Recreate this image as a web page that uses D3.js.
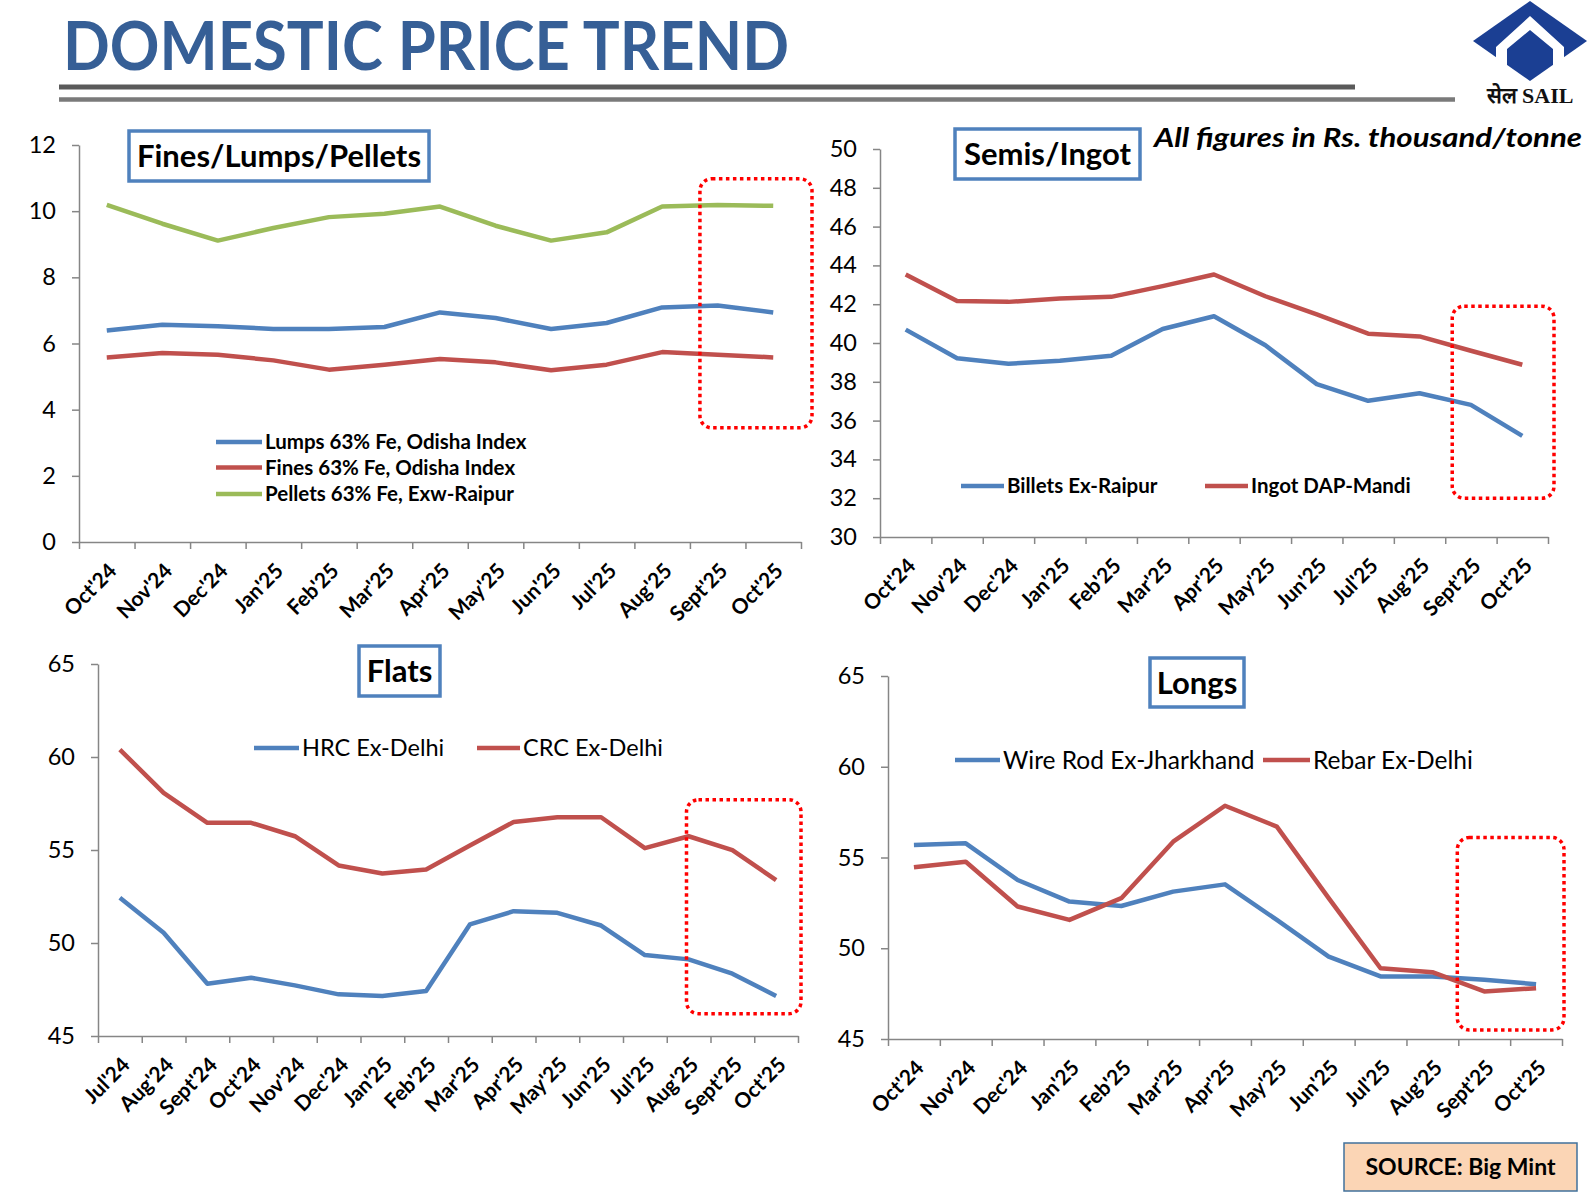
<!DOCTYPE html>
<html>
<head>
<meta charset="utf-8">
<script src="https://cdn.jsdelivr.net/npm/d3@7"></script>
<style>
  body { margin: 0; background: #fff; }
  svg text { font-family: Lato, "Open Sans", sans-serif; }
  .axis .domain, .axis line { stroke: #868686; stroke-width: 1.5; }
  .axis text { font-size: 23.5px; fill: #000; }
</style>
</head>
<body>
<div id="chart"></div>
<script>
// categories
const months13 = ["Oct'24","Nov'24","Dec'24","Jan'25","Feb'25","Mar'25","Apr'25","May'25","Jun'25","Jul'25","Aug'25","Sept'25","Oct'25"];
const months16 = ["Jul'24","Aug'24","Sept'24","Oct'24","Nov'24","Dec'24","Jan'25","Feb'25","Mar'25","Apr'25","May'25","Jun'25","Jul'25","Aug'25","Sept'25","Oct'25"];

// series, Rs. thousand/tonne
const lumps   = [6.39, 6.57, 6.52, 6.44, 6.44, 6.50, 6.94, 6.77, 6.44, 6.62, 7.09, 7.15, 6.94];
const fines   = [5.58, 5.71, 5.66, 5.49, 5.21, 5.36, 5.53, 5.43, 5.19, 5.36, 5.74, 5.66, 5.58];
const pellets = [10.19, 9.62, 9.11, 9.49, 9.82, 9.92, 10.14, 9.56, 9.11, 9.36, 10.14, 10.19, 10.16];

const billets = [40.69, 39.21, 38.93, 39.09, 39.34, 40.72, 41.38, 39.88, 37.88, 37.02, 37.41, 36.81, 35.21];
const ingot   = [43.53, 42.16, 42.12, 42.29, 42.38, 42.93, 43.53, 42.41, 41.47, 40.48, 40.34, 39.60, 38.88];

const hrc = [52.43, 50.55, 47.81, 48.13, 47.72, 47.24, 47.15, 47.42, 51.00, 51.71, 51.62, 50.94, 49.35, 49.12, 48.35, 47.15];
const crc = [60.40, 58.07, 56.46, 56.46, 55.74, 54.17, 53.74, 53.95, 55.24, 56.51, 56.76, 56.76, 55.10, 55.74, 54.99, 53.38];

const wireRod = [55.69, 55.78, 53.76, 52.57, 52.33, 53.12, 53.52, 51.56, 49.54, 48.45, 48.45, 48.26, 48.02];
const rebar   = [54.46, 54.77, 52.30, 51.56, 52.76, 55.87, 57.85, 56.70, 52.76, 48.90, 48.68, 47.62, 47.80];

// y ticks
const ticksFines = [0, 2, 4, 6, 8, 10, 12];
const ticksSemis = [30, 32, 34, 36, 38, 40, 42, 44, 46, 48, 50];
const ticksFlats = [45, 50, 55, 60, 65];
const ticksLongs = [45, 50, 55, 60, 65];

const BLUE = "#4f81bd", RED = "#c0504d", GREEN = "#9bbb59";

const svg = d3.select("#chart").append("svg")
    .attr("width", 1590)
    .attr("height", 1198);

// header
svg.append("text")
    .attr("x", 63).attr("y", 70)
    .attr("textLength", 726).attr("lengthAdjust", "spacingAndGlyphs")
    .style("font-size", "66px").style("font-weight", 700).style("fill", "#365f96")
    .text("DOMESTIC PRICE TREND");

svg.append("line").attr("x1", 59).attr("x2", 1355).attr("y1", 87).attr("y2", 87)
    .attr("stroke", "#5a5a5a").attr("stroke-width", 5);
svg.append("line").attr("x1", 59).attr("x2", 1455).attr("y1", 99.5).attr("y2", 99.5)
    .attr("stroke", "#7a7a7a").attr("stroke-width", 4.5);

// SAIL logo
const logo = svg.append("g");
logo.append("polygon").attr("points", "1530,1 1587,41 1530,81 1473,41").attr("fill", "#1b3f93");
logo.append("polygon")
    .attr("points", "1530,16 1564,47 1564,58 1553,66 1553,49 1530,30 1507,49 1507,66 1496,58 1496,47")
    .attr("fill", "#fff");
svg.append("text")
    .attr("x", 1530).attr("y", 103).attr("text-anchor", "middle")
    .style("font-family", "'Liberation Serif', serif").style("font-size", "22px")
    .style("font-weight", 700).style("fill", "#111")
    .text("सेल SAIL");

svg.append("text")
    .attr("x", 1582).attr("y", 147).attr("text-anchor", "end")
    .attr("textLength", 428).attr("lengthAdjust", "spacingAndGlyphs")
    .style("font-size", "27px").style("font-weight", 700).style("font-style", "italic")
    .text("All figures in Rs. thousand/tonne");

function panel(cfg) {
    const n = cfg.cats.length;
    const g = svg.append("g");
    const x = d3.scaleBand().domain(cfg.cats).range([cfg.left, cfg.right]).padding(0);
    const cx = (d, i) => x(cfg.cats[i]) + x.bandwidth() / 2;
    const y = d3.scaleLinear().domain(d3.extent(cfg.yTicks)).range([cfg.bottom, cfg.top]);

    g.append("g")
        .attr("class", "axis")
        .attr("transform", `translate(${cfg.left},0)`)
        .call(d3.axisLeft(y).tickValues(cfg.yTicks).tickSize(7).tickSizeOuter(0).tickPadding(16));

    // ticks sit between categories
    const xb = d3.scaleLinear().domain([0, n]).range([cfg.left, cfg.right]);
    g.append("g")
        .attr("class", "axis")
        .attr("transform", `translate(0,${cfg.bottom})`)
        .call(d3.axisBottom(xb).tickValues(d3.range(n + 1)).tickSize(7).tickSizeOuter(0).tickFormat(""));

    g.selectAll("text.xlab")
        .data(cfg.cats)
        .join("text")
        .attr("class", "xlab")
        .attr("transform", d => `translate(${x(d) + x.bandwidth() / 2 + 6},${cfg.bottom + 25}) rotate(-45)`)
        .attr("text-anchor", "end")
        .attr("dy", "0.35em")
        .style("font-size", "21px").style("font-weight", 700)
        .text(d => d);

    const line = d3.line().x(cx).y(d => y(d));
    cfg.series.forEach(s => {
        g.append("path")
            .datum(s.values)
            .attr("d", line)
            .attr("fill", "none")
            .attr("stroke", s.color)
            .attr("stroke-width", 4.5)
            .attr("stroke-linejoin", "round");
    });

    // highlight box around latest months
    const hb = cfg.highlight;
    const hx0 = x(cfg.cats[n - 2]) + hb.dx0, hx1 = cfg.right + hb.dx1;
    g.append("rect")
        .attr("x", hx0).attr("y", y(hb.y1))
        .attr("width", hx1 - hx0).attr("height", y(hb.y0) - y(hb.y1))
        .attr("rx", 12)
        .attr("fill", "none").attr("stroke", "#ff0000")
        .attr("stroke-width", 3.5).attr("stroke-dasharray", "3.5,3.5");

    // title box
    const t = cfg.title;
    g.append("rect").attr("x", t.x).attr("y", t.y).attr("width", t.w).attr("height", t.h)
        .attr("fill", "#fff").attr("stroke", BLUE).attr("stroke-width", 3.5);
    g.append("text").attr("x", t.x + t.w / 2).attr("y", t.y + t.h / 2).attr("dy", "0.36em")
        .attr("text-anchor", "middle")
        .style("font-size", "31px").style("font-weight", 700)
        .text(t.text);

    // legend
    cfg.legend.forEach(l => {
        const s = cfg.series[l.idx];
        g.append("line").attr("x1", l.x).attr("x2", l.x + l.len).attr("y1", l.y).attr("y2", l.y)
            .attr("stroke", s.color).attr("stroke-width", 4.5);
        g.append("text").attr("x", l.x + l.len + 3).attr("y", l.y).attr("dy", "0.35em")
            .style("font-size", cfg.legendFont + "px").style("font-weight", cfg.legendBold ? 700 : 400)
            .text(s.name);
    });
}

panel({
    cats: months13, yTicks: ticksFines,
    left: 79, right: 801, top: 145, bottom: 542,
    series: [
        {name: "Lumps 63% Fe, Odisha Index", values: lumps, color: BLUE},
        {name: "Fines 63% Fe, Odisha Index", values: fines, color: RED},
        {name: "Pellets 63% Fe, Exw-Raipur", values: pellets, color: GREEN}
    ],
    title: {text: "Fines/Lumps/Pellets", x: 129, y: 131, w: 300, h: 50},
    legend: [{idx: 0, x: 216, y: 442, len: 46}, {idx: 1, x: 216, y: 467.5, len: 46}, {idx: 2, x: 216, y: 494, len: 46}],
    legendFont: 20.5, legendBold: true,
    highlight: {dx0: 10, dx1: 11, y0: 3.45, y1: 10.98}
});

panel({
    cats: months13, yTicks: ticksSemis,
    left: 880, right: 1548, top: 149, bottom: 537,
    series: [
        {name: "Billets Ex-Raipur", values: billets, color: BLUE},
        {name: "Ingot DAP-Mandi", values: ingot, color: RED}
    ],
    title: {text: "Semis/Ingot", x: 955, y: 129, w: 185, h: 50},
    legend: [{idx: 0, x: 961, y: 486, len: 43}, {idx: 1, x: 1205, y: 486, len: 43}],
    legendFont: 20.5, legendBold: true,
    highlight: {dx0: 7, dx1: 6, y0: 32.0, y1: 41.9}
});

panel({
    cats: months16, yTicks: ticksFlats,
    left: 98, right: 798, top: 664, bottom: 1036,
    series: [
        {name: "HRC Ex-Delhi", values: hrc, color: BLUE},
        {name: "CRC Ex-Delhi", values: crc, color: RED}
    ],
    title: {text: "Flats", x: 359, y: 646, w: 81, h: 50},
    legend: [{idx: 0, x: 254, y: 748, len: 45}, {idx: 1, x: 477, y: 748, len: 43}],
    legendFont: 23.5, legendBold: false,
    highlight: {dx0: -24, dx1: 3, y0: 46.2, y1: 57.7}
});

panel({
    cats: months13, yTicks: ticksLongs,
    left: 888, right: 1562, top: 676, bottom: 1039,
    series: [
        {name: "Wire Rod Ex-Jharkhand", values: wireRod, color: BLUE},
        {name: "Rebar Ex-Delhi", values: rebar, color: RED}
    ],
    title: {text: "Longs", x: 1150, y: 658, w: 94, h: 49},
    legend: [{idx: 0, x: 955, y: 760, len: 45}, {idx: 1, x: 1263, y: 760, len: 47}],
    legendFont: 24.5, legendBold: false,
    highlight: {dx0: -1, dx1: 2, y0: 45.5, y1: 56.1}
});

// source note
svg.append("rect").attr("x", 1344).attr("y", 1143).attr("width", 233).attr("height", 48)
    .attr("fill", "#fbd5b5").attr("stroke", "#41719c").attr("stroke-width", 1.5);
svg.append("text").attr("x", 1460.5).attr("y", 1167).attr("dy", "0.36em").attr("text-anchor", "middle")
    .style("font-size", "23px").style("font-weight", 700)
    .text("SOURCE: Big Mint");
</script>
</body>
</html>
